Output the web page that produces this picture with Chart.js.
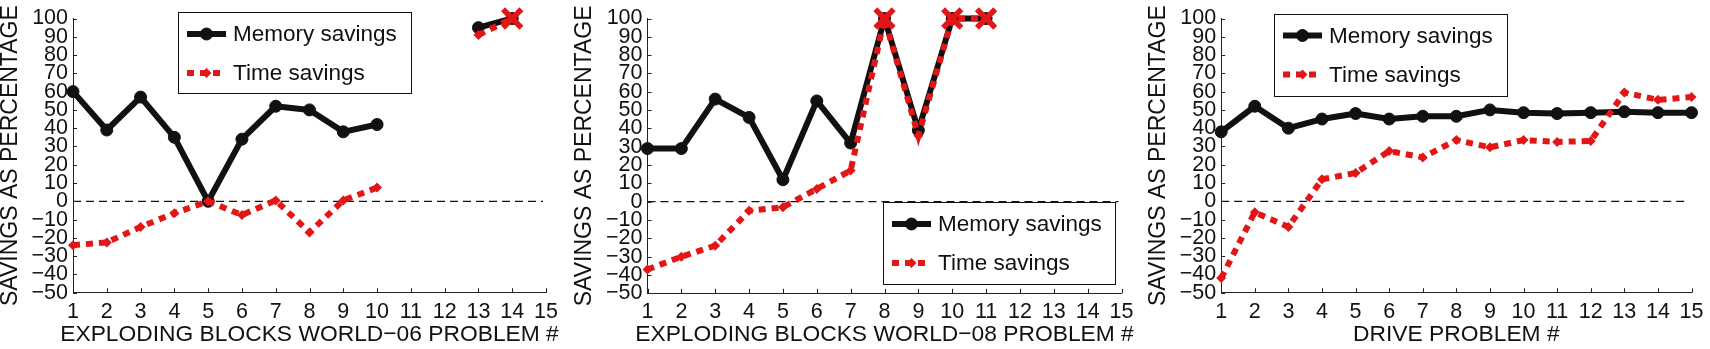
<!DOCTYPE html>
<html><head><meta charset="utf-8">
<script src="https://cdn.jsdelivr.net/npm/chart.js@4.4.1/dist/chart.umd.min.js"></script>
<style>
html,body{margin:0;padding:0;background:#fff;}
body{width:1710px;height:349px;position:relative;overflow:hidden;}
canvas{position:absolute;top:0;}
</style></head><body>
<canvas id="c1" width="570" height="349" style="left:0px"></canvas>
<canvas id="c2" width="570" height="349" style="left:570px"></canvas>
<canvas id="c3" width="570" height="349" style="left:1140px"></canvas>
<script>
// ---------- data ----------
const problems = ['1','2','3','4','5','6','7','8','9','10','11','12','13','14','15'];
const yTicks = [-50,-40,-30,-20,-10,0,10,20,30,40,50,60,70,80,90,100];

const memoryW06 = [60, 39, 57, 35, 0, 34, 52, 50, 38, 42, null, null, 95, 100, null];
const timeW06   = [-24, -22.5, -14, -6.5, 0, -7.5, 0.5, -17, 0.5, 7.5, null, null, 91, 100, null];
const solvedW06 = [null, null, null, null, null, null, null, null, null, null, null, null, null, 100, null];

const memoryW08 = [29, 29, 56, 46, 12, 55, 32, 100, 39, 100, 100, null, null, null, null];
const timeW08   = [-37, -30, -24, -5, -3, 7, 17, 100, 36, 100, 100, null, null, null, null];
const solvedW08 = [null, null, null, null, null, null, null, 100, null, 100, 100, null, null, null, null];

const memoryDrive = [38, 52, 40, 45, 48, 45, 46.5, 46.5, 50, 48.5, 48, 48.5, 49, 48.5, 48.5];
const timeDrive   = [-42, -6, -14, 12, 15.5, 27.5, 24, 33.5, 29.5, 33.5, 32.5, 33, 59.5, 55.5, 57];
const solvedDrive = [null, null, null, null, null, null, null, null, null, null, null, null, null, null, null];

const seriesLabels = ['Memory savings', 'Time savings'];
const xTitles = ['EXPLODING BLOCKS WORLD\u221206 PROBLEM #', 'EXPLODING BLOCKS WORLD\u221208 PROBLEM #', 'DRIVE PROBLEM #'];
const yTitle = 'SAVINGS AS PERCENTAGE';

// ---------- style ----------
const FONT = '"Liberation Sans", Arial, Helvetica, sans-serif';
const RED = 'rgb(226,22,22)';
const BLACK = '#111';
Chart.defaults.font.family = FONT;
Chart.defaults.color = '#111';

function drawMarker(ctx, style, r, x, y, fill, stroke, bw) {
  ctx.save();
  ctx.fillStyle = fill; ctx.strokeStyle = stroke; ctx.lineWidth = bw; ctx.setLineDash([]);
  ctx.beginPath();
  if (style === 'circle') { ctx.arc(x, y, r, 0, Math.PI * 2); }
  else { ctx.moveTo(x, y - r); ctx.lineTo(x + r, y); ctx.lineTo(x, y + r); ctx.lineTo(x - r, y); ctx.closePath(); }
  ctx.fill(); if (bw) ctx.stroke();
  ctx.restore();
}

const decor = {
  id: 'decor',
  beforeDatasetsDraw(chart) {
    const {ctx, chartArea: a, scales: {x, y}} = chart;
    ctx.save();
    const y0 = y.getPixelForValue(0);
    ctx.strokeStyle = '#111'; ctx.lineWidth = 1.2; ctx.setLineDash([8, 5]);
    ctx.beginPath(); ctx.moveTo(a.left, y0); ctx.lineTo(a.right - 3, y0); ctx.stroke();
    ctx.setLineDash([]);
    ctx.lineWidth = 1; ctx.strokeStyle = '#222';
    ctx.beginPath();
    x.ticks.forEach((t, i) => { const px = Math.round(x.getPixelForTick(i)) + 0.5; ctx.moveTo(px, a.bottom); ctx.lineTo(px, a.bottom - 4.5); });
    y.ticks.forEach(t => { const py = Math.round(y.getPixelForValue(t.value)) + 0.5; ctx.moveTo(a.left, py); ctx.lineTo(a.left + 4, py); });
    ctx.stroke();
    ctx.restore();
  },
  afterDraw(chart, args, opts) {
    const {ctx, chartArea: a} = chart;
    ctx.save();
    // axis titles (drawn without width compression)
    ctx.fillStyle = '#111'; ctx.textBaseline = 'middle'; ctx.textAlign = 'center';
    ctx.font = opts.xTitleSize + 'px ' + FONT;
    ctx.fillText(opts.xTitle, (a.left + a.right) / 2, opts.xTitleY);
    ctx.save();
    ctx.translate(a.left - opts.yTitleGap, (a.top + a.bottom) / 2);
    ctx.rotate(-Math.PI / 2);
    ctx.font = opts.yTitleSize + 'px ' + FONT;
    ctx.fillText(opts.yTitle, 0, 0);
    ctx.restore();
    // legend
    const b = opts.box;
    ctx.fillStyle = '#fff'; ctx.fillRect(b.left, b.top, b.width, b.height);
    ctx.strokeStyle = '#111'; ctx.lineWidth = 1; ctx.strokeRect(Math.round(b.left) + 0.5, Math.round(b.top) + 0.5, b.width, b.height);
    const items = chart.data.datasets.filter(d => d.inLegend).sort((p, q) => p.legendRank - q.legendRank);
    items.forEach((ds, i) => {
      const cy = b.top + opts.rows[i];
      const x0 = b.left + opts.sample[0], x1 = b.left + opts.sample[1];
      ctx.strokeStyle = ds.borderColor; ctx.lineWidth = ds.borderWidth; ctx.lineCap = 'butt';
      ctx.setLineDash(ds.borderDash || []);
      ctx.beginPath(); ctx.moveTo(x0, cy); ctx.lineTo(x1, cy); ctx.stroke();
      ctx.setLineDash([]);
      drawMarker(ctx, ds.pointStyle, ds.pointRadius, (x0 + x1) / 2, cy, ds.pointBackgroundColor, ds.pointBorderColor, ds.pointBorderWidth);
      ctx.fillStyle = '#111'; ctx.font = '22.5px ' + FONT; ctx.textBaseline = 'middle'; ctx.textAlign = 'left';
      ctx.fillText(ds.label, b.left + opts.textX, cy + 1);
    });
    ctx.restore();
  }
};

function makeChart(id, memory, time, solved, xTitle, geo, legendBox) {
  const padLeft = 0;
  return new Chart(document.getElementById(id), {
    type: 'line',
    data: {
      labels: problems,
      datasets: [
        { label: 'solved', data: solved, inLegend: false, showLine: false, order: 0, clip: false,
          pointStyle: 'crossRot', pointRadius: 13, pointBorderWidth: 5.5, pointBorderColor: RED, pointBackgroundColor: RED,
          borderColor: RED },
        { label: seriesLabels[1], data: time, inLegend: true, legendRank: 1, order: 1, clip: false,
          borderColor: RED, borderWidth: 6, borderDash: [7, 6], borderCapStyle: 'butt', spanGaps: false,
          pointStyle: 'rectRot', pointRadius: 5, pointBackgroundColor: RED, pointBorderColor: RED, pointBorderWidth: 0,
          tension: 0 },
        { label: seriesLabels[0], data: memory, inLegend: true, legendRank: 0, order: 2, clip: false,
          borderColor: BLACK, borderWidth: 6, spanGaps: false, borderJoinStyle: 'round',
          pointStyle: 'circle', pointRadius: 6, pointBackgroundColor: BLACK, pointBorderColor: BLACK, pointBorderWidth: 1,
          tension: 0 }
      ]
    },
    options: {
      responsive: false, animation: false, events: [],
      layout: { padding: { left: padLeft, top: geo.areaTop, right: 570 - geo.areaRight, bottom: 0 } },
      plugins: {
        legend: { display: false }, tooltip: { enabled: false },
        decor: { box: legendBox, rows: [22, 61], sample: [9, 48], textX: 55,
                 xTitle: xTitle, xTitleSize: 22.8, xTitleY: 334.5,
                 yTitle: yTitle, yTitleSize: 23, yTitleGap: 62.5 }
      },
      scales: {
        x: {
          type: 'category', offset: false,
          grid: { display: false, drawTicks: false },
          border: { display: true, color: '#222', width: 1 },
          ticks: { font: { size: 21.5 }, padding: 6, maxRotation: 0, autoSkip: false, color: '#111' },
          title: { display: false, text: xTitle },
          afterFit: s => { s.height = 349 - geo.areaBottom; }
        },
        y: {
          type: 'linear', min: -50, max: 100,
          afterBuildTicks: s => { s.ticks = yTicks.map(v => ({ value: v })); },
          grid: { display: false, drawTicks: false },
          border: { display: true, color: '#222', width: 1 },
          ticks: { font: { size: 21.5 }, padding: 5, autoSkip: false, color: '#111', callback: v => String(v).replace('-', '\u2212') },
          title: { display: false, text: yTitle },
          afterFit: s => { s.width = geo.areaLeft - padLeft; }
        }
      }
    },
    plugins: [decor]
  });
}

makeChart('c1', memoryW06, timeW06, solvedW06, xTitles[0],
  { areaLeft: 73, areaRight: 546, areaTop: 13.3, areaBottom: 292.7 },
  { left: 178, top: 12, width: 233, height: 81 });
makeChart('c2', memoryW08, timeW08, solvedW08, xTitles[1],
  { areaLeft: 77.5, areaRight: 552.3, areaTop: 12.5, areaBottom: 293.3 },
  { left: 313, top: 202, width: 232, height: 82 });
makeChart('c3', memoryDrive, timeDrive, solvedDrive, xTitles[2],
  { areaLeft: 81.2, areaRight: 554.3, areaTop: 13.3, areaBottom: 292.7 },
  { left: 134, top: 13.5, width: 233, height: 82 });
</script>
</body></html>
